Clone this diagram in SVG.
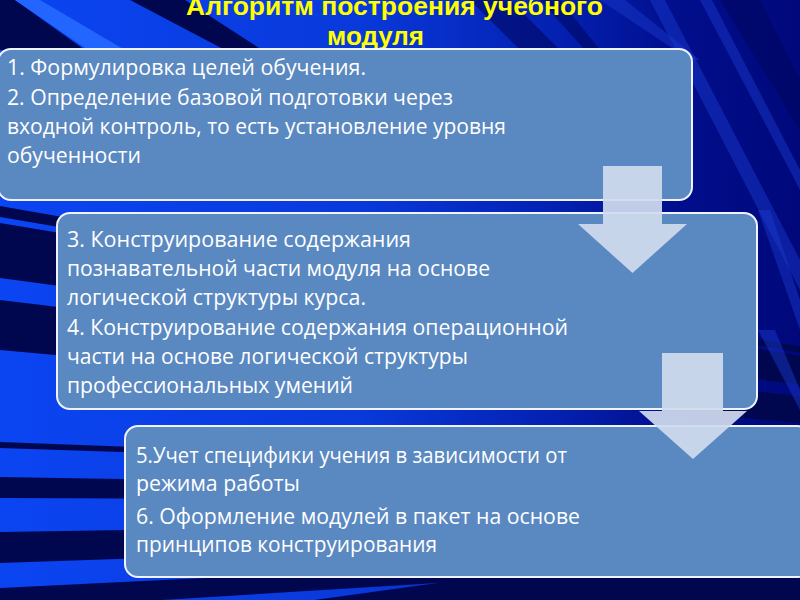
<svg xmlns="http://www.w3.org/2000/svg" width="800" height="600" viewBox="0 0 800 600">
<defs>
<linearGradient id="bg" x1="0" y1="0" x2="1" y2="0">
<stop offset="0" stop-color="#0B45F2"/>
<stop offset="0.45" stop-color="#0939DA"/>
<stop offset="0.7" stop-color="#0420B0"/>
<stop offset="0.85" stop-color="#010E8C"/>
<stop offset="1" stop-color="#00087A"/>
</linearGradient>
<style>
.navy{fill:#00074F}
.streak{fill:#1A3CD0;opacity:0.45}
.dstreak{fill:#000660;opacity:0.6}
.box{fill:#5A88C1;stroke:#EEF3FF;stroke-width:2}
.arrow{fill:#D0DAEE;opacity:0.93}
.t{font-family:"Open Sans","Noto Sans",sans-serif;font-size:21px;fill:#FFFFFF}
.title{font-family:"Liberation Sans",Arial,sans-serif;font-weight:bold;font-size:25px;fill:#FFFF00}
</style>
</defs>
<g id="background">
<rect x="0" y="0" width="800" height="600" fill="url(#bg)"/>
<polygon class="navy" points="0,206 0,217 1700,505"/>
<polygon class="navy" points="0,223 0,278 1700,505"/>
<polygon class="navy" points="0,300 0,350 1700,505"/>
<polygon class="navy" points="0,442 0,448 1700,505"/>
<polygon class="navy" points="0,477 0,498 1700,505"/>
<polygon class="navy" points="0,532 0,563 1700,505"/>
<polygon class="navy" points="0,588 0,610 1700,505"/>
<polygon class="navy" points="300,602 800,602 800,540 748,540"/>
<polygon class="navy" points="0,0 15,0 85,50 0,50"/>
<polygon fill="#2366FF" points="15,0 40,0 125,50 88,50"/>
<polygon class="navy" points="130,0 185,0 262,50 225,50"/>
<polygon class="dstreak" points="470,0 510,0 560,50 520,50"/>
<polygon class="dstreak" points="540,0 560,0 600,50 585,50"/>
<polygon class="streak" points="600,0 625,0 700,60 690,60"/>
<polygon class="streak" points="650,0 665,0 800,260 800,290"/>
<polygon class="streak" points="700,0 712,0 800,170 800,190"/>
<polygon class="dstreak" points="720,0 760,0 800,80 800,130"/>
<polygon class="streak" points="758,210 770,210 800,300 800,330"/>
<polygon class="streak" points="758,330 775,330 800,390 800,410"/>
</g>
<g id="title">
<text class="title" x="186" y="15" textLength="417" lengthAdjust="spacingAndGlyphs">Алгоритм построения учебного</text>
<text class="title" x="327" y="45" textLength="97" lengthAdjust="spacingAndGlyphs">модуля</text>
</g>
<g id="node1">
<rect class="box" x="-2" y="49" width="694" height="151" rx="13"/>
<text class="t" x="7" y="75" textLength="359" lengthAdjust="spacingAndGlyphs">1. Формулировка целей обучения.</text>
<text class="t" x="7" y="105" textLength="446" lengthAdjust="spacingAndGlyphs">2. Определение базовой подготовки через</text>
<text class="t" x="7" y="134" textLength="499" lengthAdjust="spacingAndGlyphs">входной контроль, то есть установление уровня</text>
<text class="t" x="7" y="163" textLength="134" lengthAdjust="spacingAndGlyphs">обученности</text>
</g>
<g id="node2">
<rect class="box" x="57" y="213" width="700" height="196" rx="13"/>
<text class="t" x="67" y="247" textLength="344" lengthAdjust="spacingAndGlyphs">3. Конструирование содержания</text>
<text class="t" x="67" y="276" textLength="423" lengthAdjust="spacingAndGlyphs">познавательной части модуля на основе</text>
<text class="t" x="67" y="305" textLength="299" lengthAdjust="spacingAndGlyphs">логической структуры курса.</text>
<text class="t" x="67" y="335" textLength="501" lengthAdjust="spacingAndGlyphs">4. Конструирование содержания операционной</text>
<text class="t" x="67" y="364" textLength="401" lengthAdjust="spacingAndGlyphs">части на основе логической структуры</text>
<text class="t" x="67" y="393" textLength="286" lengthAdjust="spacingAndGlyphs">профессиональных умений</text>
</g>
<g id="node3">
<rect class="box" x="125" y="426" width="685" height="151" rx="13"/>
<text class="t" x="136" y="463" textLength="431" lengthAdjust="spacingAndGlyphs">5.Учет специфики учения в зависимости от</text>
<text class="t" x="136" y="491" textLength="164" lengthAdjust="spacingAndGlyphs">режима работы</text>
<text class="t" x="136" y="524" textLength="444" lengthAdjust="spacingAndGlyphs">6. Оформление модулей в пакет на основе</text>
<text class="t" x="136" y="552" textLength="301" lengthAdjust="spacingAndGlyphs">принципов конструирования</text>
</g>
<g id="connectors">
<polygon class="arrow" points="603,166 662,166 662,224 687,224 632.5,273 578,224 603,224"/>
<polygon class="arrow" points="662,353 723,353 723,411 747,411 693,459 639,411 662,411"/>
</g>
</svg>
